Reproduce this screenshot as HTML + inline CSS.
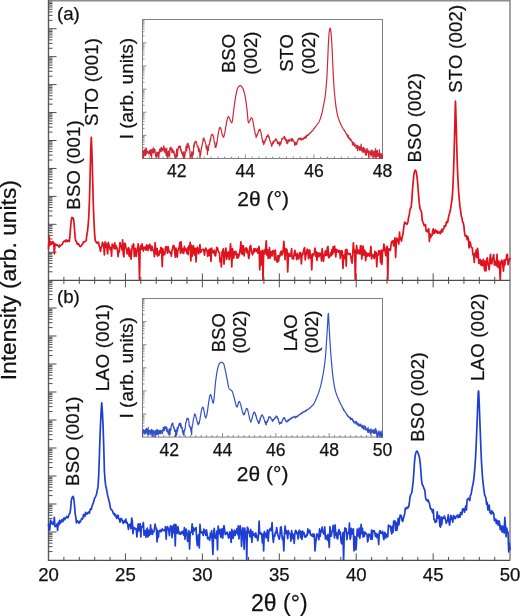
<!DOCTYPE html>
<html><head><meta charset="utf-8"><title>XRD</title>
<style>html,body{margin:0;padding:0;background:#fff;width:520px;height:616px;overflow:hidden}svg{display:block}</style>
</head><body><svg width="520" height="616" viewBox="0 0 520 616"><rect x="0" y="0" width="520" height="616" fill="#fff"/>
<path d="M48.5 0.6H510M510 0V560.4" stroke="#8c8c8c" stroke-width="1.6" fill="none"/>
<path d="M48.5 560.4H510" stroke="#4d4d4d" stroke-width="1.1" fill="none"/>
<path d="M48.5 0V561" stroke="#5a5a5a" stroke-width="1.4" fill="none"/>
<line x1="48.5" y1="280.4" x2="510.1" y2="280.4" stroke="#4d4d4d" stroke-width="1.3"/>
<path d="M63.89 560.4v-3.5M63.89 276.9v7.0M79.27 560.4v-3.5M79.27 276.9v7.0M94.66 560.4v-3.5M94.66 276.9v7.0M110.05 560.4v-3.5M110.05 276.9v7.0M125.43 560.4v-7M125.43 273.4v14M140.82 560.4v-3.5M140.82 276.9v7.0M156.21 560.4v-3.5M156.21 276.9v7.0M171.59 560.4v-3.5M171.59 276.9v7.0M186.98 560.4v-3.5M186.98 276.9v7.0M202.37 560.4v-7M202.37 273.4v14M217.75 560.4v-3.5M217.75 276.9v7.0M233.14 560.4v-3.5M233.14 276.9v7.0M248.53 560.4v-3.5M248.53 276.9v7.0M263.91 560.4v-3.5M263.91 276.9v7.0M279.30 560.4v-7M279.30 273.4v14M294.69 560.4v-3.5M294.69 276.9v7.0M310.07 560.4v-3.5M310.07 276.9v7.0M325.46 560.4v-3.5M325.46 276.9v7.0M340.85 560.4v-3.5M340.85 276.9v7.0M356.23 560.4v-7M356.23 273.4v14M371.62 560.4v-3.5M371.62 276.9v7.0M387.01 560.4v-3.5M387.01 276.9v7.0M402.39 560.4v-3.5M402.39 276.9v7.0M417.78 560.4v-3.5M417.78 276.9v7.0M433.17 560.4v-7M433.17 273.4v14M448.55 560.4v-3.5M448.55 276.9v7.0M463.94 560.4v-3.5M463.94 276.9v7.0M479.33 560.4v-3.5M479.33 276.9v7.0M494.71 560.4v-3.5M494.71 276.9v7.0" stroke="#4d4d4d" stroke-width="1" fill="none"/>
<path d="M48.5 271.79h4M48.5 266.87h4M48.5 263.38h4M48.5 260.67h4M48.5 258.46h4M48.5 256.59h4M48.5 254.97h4M48.5 253.54h4M48.5 252.26h8M48.5 243.85h4M48.5 238.93h4M48.5 235.44h4M48.5 232.73h4M48.5 230.52h4M48.5 228.65h4M48.5 227.03h4M48.5 225.60h4M48.5 224.32h8M48.5 215.91h4M48.5 210.99h4M48.5 207.50h4M48.5 204.79h4M48.5 202.58h4M48.5 200.71h4M48.5 199.09h4M48.5 197.66h4M48.5 196.38h8M48.5 187.97h4M48.5 183.05h4M48.5 179.56h4M48.5 176.85h4M48.5 174.64h4M48.5 172.77h4M48.5 171.15h4M48.5 169.72h4M48.5 168.44h8M48.5 160.03h4M48.5 155.11h4M48.5 151.62h4M48.5 148.91h4M48.5 146.70h4M48.5 144.83h4M48.5 143.21h4M48.5 141.78h4M48.5 140.50h8M48.5 132.09h4M48.5 127.17h4M48.5 123.68h4M48.5 120.97h4M48.5 118.76h4M48.5 116.89h4M48.5 115.27h4M48.5 113.84h4M48.5 112.56h8M48.5 104.15h4M48.5 99.23h4M48.5 95.74h4M48.5 93.03h4M48.5 90.82h4M48.5 88.95h4M48.5 87.33h4M48.5 85.90h4M48.5 84.62h8M48.5 76.21h4M48.5 71.29h4M48.5 67.80h4M48.5 65.09h4M48.5 62.88h4M48.5 61.01h4M48.5 59.39h4M48.5 57.96h4M48.5 56.68h8M48.5 48.27h4M48.5 43.35h4M48.5 39.86h4M48.5 37.15h4M48.5 34.94h4M48.5 33.07h4M48.5 31.45h4M48.5 30.02h4M48.5 28.74h8M48.5 20.33h4M48.5 15.41h4M48.5 11.92h4M48.5 9.21h4M48.5 7.00h4M48.5 5.13h4M48.5 3.51h4M48.5 2.08h4M48.5 551.57h4M48.5 546.64h4M48.5 543.14h4M48.5 540.43h4M48.5 538.21h4M48.5 536.34h4M48.5 534.71h4M48.5 533.28h4M48.5 532.00h8M48.5 523.57h4M48.5 518.64h4M48.5 515.14h4M48.5 512.43h4M48.5 510.21h4M48.5 508.34h4M48.5 506.71h4M48.5 505.28h4M48.5 504.00h8M48.5 495.57h4M48.5 490.64h4M48.5 487.14h4M48.5 484.43h4M48.5 482.21h4M48.5 480.34h4M48.5 478.71h4M48.5 477.28h4M48.5 476.00h8M48.5 467.57h4M48.5 462.64h4M48.5 459.14h4M48.5 456.43h4M48.5 454.21h4M48.5 452.34h4M48.5 450.71h4M48.5 449.28h4M48.5 448.00h8M48.5 439.57h4M48.5 434.64h4M48.5 431.14h4M48.5 428.43h4M48.5 426.21h4M48.5 424.34h4M48.5 422.71h4M48.5 421.28h4M48.5 420.00h8M48.5 411.57h4M48.5 406.64h4M48.5 403.14h4M48.5 400.43h4M48.5 398.21h4M48.5 396.34h4M48.5 394.71h4M48.5 393.28h4M48.5 392.00h8M48.5 383.57h4M48.5 378.64h4M48.5 375.14h4M48.5 372.43h4M48.5 370.21h4M48.5 368.34h4M48.5 366.71h4M48.5 365.28h4M48.5 364.00h8M48.5 355.57h4M48.5 350.64h4M48.5 347.14h4M48.5 344.43h4M48.5 342.21h4M48.5 340.34h4M48.5 338.71h4M48.5 337.28h4M48.5 336.00h8M48.5 327.57h4M48.5 322.64h4M48.5 319.14h4M48.5 316.43h4M48.5 314.21h4M48.5 312.34h4M48.5 310.71h4M48.5 309.28h4M48.5 308.00h8M48.5 299.57h4M48.5 294.64h4M48.5 291.14h4M48.5 288.43h4M48.5 286.21h4M48.5 284.34h4M48.5 282.71h4M48.5 281.28h4" stroke="#4d4d4d" stroke-width="1" fill="none"/>
<polyline points="48.50,249.15 49.15,236.72 49.80,245.40 50.45,241.89 51.10,244.28 51.75,244.02 52.40,241.52 53.05,242.91 53.70,242.26 54.35,253.78 55.00,244.21 55.65,244.13 56.30,245.25 56.95,244.69 57.60,245.32 58.25,245.92 58.90,247.15 59.55,245.10 60.20,246.08 60.85,245.26 61.50,244.87 62.15,244.52 62.80,243.07 63.45,241.56 64.10,241.38 64.75,240.92 65.40,241.62 66.05,239.80 66.70,241.53 67.35,241.61 68.00,240.33 68.65,241.23 69.30,241.31 69.95,235.60 70.60,226.97 71.25,220.52 71.90,217.39 72.30,218.05 72.55,217.74 73.20,218.00 73.85,221.23 74.50,228.56 75.15,238.15 75.80,240.79 76.45,241.59 77.10,243.75 77.75,244.39 78.40,243.64 79.05,244.52 79.70,246.27 80.35,246.59 81.00,246.13 81.65,245.30 82.30,244.19 82.95,243.84 83.60,241.59 84.25,241.98 84.90,241.54 85.55,241.11 86.20,240.58 86.85,234.93 87.50,231.36 88.15,224.83 88.80,216.48 89.45,200.17 90.10,175.36 90.75,149.38 91.30,137.40 91.40,137.95 92.05,156.42 92.70,180.74 93.35,205.91 94.00,222.28 94.65,234.30 95.30,240.99 95.95,241.39 96.60,242.88 97.25,242.38 97.90,243.37 98.55,242.26 99.20,246.19 99.85,247.79 100.50,251.37 101.15,247.00 101.80,246.67 102.45,242.30 103.10,243.73 103.75,245.82 104.40,254.84 105.05,241.76 105.70,247.19 106.35,243.54 107.00,248.23 107.65,253.83 108.30,242.33 108.95,244.87 109.60,247.08 110.25,249.71 110.90,247.52 111.55,256.26 112.20,243.99 112.85,246.62 113.50,245.07 114.15,248.78 114.80,242.86 115.45,248.88 116.10,245.80 116.75,247.73 117.40,248.95 118.05,256.56 118.70,250.82 119.35,251.84 120.00,242.48 120.65,246.60 121.30,245.90 121.95,249.83 122.60,239.78 123.25,254.06 123.90,256.82 124.55,243.33 125.20,243.27 125.85,247.54 126.50,248.74 127.15,253.83 127.80,253.38 128.45,247.63 129.10,256.21 129.75,249.12 130.40,254.88 131.05,259.13 131.70,251.54 132.35,245.23 133.00,247.58 133.65,243.92 134.30,256.60 134.95,250.84 135.60,248.33 136.25,256.42 136.90,251.35 137.55,249.95 138.20,243.95 138.85,252.96 139.50,280.00 140.15,248.43 140.80,245.58 141.45,249.04 142.10,243.95 142.75,248.98 143.40,251.01 144.05,247.08 144.70,248.64 145.35,247.13 146.00,250.17 146.65,244.75 147.30,248.81 147.95,250.46 148.60,245.26 149.25,247.89 149.90,244.34 150.55,249.55 151.20,250.55 151.85,246.04 152.50,247.95 153.15,250.65 153.80,251.30 154.45,256.73 155.10,242.71 155.75,252.00 156.40,254.31 157.05,248.37 157.70,256.11 158.35,252.40 159.00,255.20 159.65,250.55 160.30,252.79 160.95,247.31 161.60,249.15 162.25,266.70 162.90,248.78 163.55,255.07 164.20,252.41 164.85,254.39 165.50,247.21 166.15,246.61 166.80,247.93 167.45,253.04 168.10,246.56 168.75,250.46 169.40,251.91 170.05,252.92 170.70,252.05 171.35,256.11 172.00,250.40 172.65,248.29 173.30,245.43 173.95,245.74 174.60,250.35 175.25,257.20 175.90,247.98 176.55,251.85 177.20,257.11 177.85,251.27 178.50,248.47 179.15,247.99 179.80,242.33 180.45,253.48 181.10,241.88 181.75,251.94 182.40,248.48 183.05,253.21 183.70,253.29 184.35,246.34 185.00,250.62 185.65,248.79 186.30,250.35 186.95,253.43 187.60,247.89 188.25,254.55 188.90,245.97 189.55,247.61 190.20,242.30 190.85,261.01 191.50,245.41 192.15,256.20 192.80,253.33 193.45,245.61 194.10,251.38 194.75,255.03 195.40,248.37 196.05,262.00 196.70,249.39 197.35,247.23 198.00,251.15 198.65,253.80 199.30,249.32 199.95,244.51 200.60,252.41 201.25,251.44 201.90,250.16 202.55,249.57 203.20,249.19 203.85,250.25 204.50,255.17 205.15,250.02 205.80,248.04 206.45,250.52 207.10,250.46 207.75,256.42 208.40,251.65 209.05,249.52 209.70,255.77 210.35,248.84 211.00,261.35 211.65,248.14 212.30,252.56 212.95,251.37 213.60,252.81 214.25,250.15 214.90,255.18 215.55,255.95 216.20,251.31 216.85,247.47 217.50,248.04 218.15,250.69 218.80,252.46 219.45,252.67 220.10,261.94 220.75,258.55 221.40,266.93 222.05,251.70 222.70,251.20 223.35,248.80 224.00,264.09 224.65,256.38 225.30,251.78 225.95,248.09 226.60,259.12 227.25,256.13 227.90,252.59 228.55,251.79 229.20,259.63 229.85,254.16 230.50,243.91 231.15,251.82 231.80,267.00 232.45,248.62 233.10,254.26 233.75,258.22 234.40,251.64 235.05,254.43 235.70,251.28 236.35,253.60 237.00,258.19 237.65,254.12 238.30,257.68 238.95,255.73 239.60,252.83 240.25,249.53 240.90,241.88 241.55,253.34 242.20,254.32 242.85,245.53 243.50,246.21 244.15,255.97 244.80,249.18 245.45,248.88 246.10,247.82 246.75,252.55 247.40,249.06 248.05,253.21 248.70,258.50 249.35,254.78 250.00,246.35 250.65,245.36 251.30,249.98 251.95,253.01 252.60,254.80 253.25,252.29 253.90,248.77 254.55,251.91 255.20,248.72 255.85,250.52 256.50,251.28 257.15,248.74 257.80,253.25 258.45,249.77 259.10,246.46 259.75,269.88 260.40,251.06 261.05,264.84 261.70,253.57 262.35,250.36 263.00,280.00 263.65,254.05 264.30,250.20 264.95,253.90 265.60,249.07 266.25,240.87 266.90,255.09 267.55,249.77 268.20,258.44 268.85,255.12 269.50,247.54 270.15,258.08 270.80,251.89 271.45,251.75 272.10,255.99 272.75,250.95 273.40,250.47 274.05,252.68 274.70,260.01 275.35,250.18 276.00,259.24 276.65,260.85 277.30,262.24 277.95,255.56 278.60,261.03 279.25,255.71 279.90,256.19 280.55,252.14 281.20,251.09 281.85,255.06 282.50,253.81 283.15,250.33 283.80,241.37 284.45,248.60 285.10,259.64 285.75,248.80 286.40,249.00 287.05,250.15 287.70,272.00 288.35,256.65 289.00,253.26 289.65,256.12 290.30,256.15 290.95,254.15 291.60,248.68 292.25,258.77 292.90,256.57 293.55,258.86 294.20,253.77 294.85,250.44 295.50,255.27 296.15,254.02 296.80,259.74 297.45,253.43 298.10,257.62 298.75,258.81 299.40,255.08 300.05,252.29 300.70,253.71 301.35,263.95 302.00,254.22 302.65,254.86 303.30,252.03 303.95,249.18 304.60,247.68 305.25,259.91 305.90,255.17 306.55,252.85 307.20,249.19 307.85,250.04 308.50,258.66 309.15,252.33 309.80,249.95 310.45,258.11 311.10,255.41 311.75,270.00 312.40,253.89 313.05,255.86 313.70,254.14 314.35,253.26 315.00,248.00 315.65,256.50 316.30,251.78 316.95,260.49 317.60,252.82 318.25,253.62 318.90,256.76 319.55,253.15 320.20,255.27 320.85,253.31 321.50,260.88 322.15,248.68 322.80,253.85 323.45,261.30 324.10,255.71 324.75,255.07 325.40,250.86 326.05,255.43 326.70,255.42 327.35,247.22 328.00,246.47 328.65,257.59 329.30,257.45 329.95,255.93 330.60,252.89 331.25,255.58 331.90,249.68 332.55,254.45 333.20,246.89 333.85,252.22 334.50,246.22 335.15,249.86 335.80,256.99 336.45,249.28 337.10,250.13 337.75,251.71 338.40,252.18 339.05,250.46 339.70,250.59 340.35,258.39 341.00,253.21 341.65,250.51 342.30,251.49 342.95,268.37 343.60,255.46 344.25,258.83 344.90,255.66 345.55,249.76 346.20,266.23 346.85,249.30 347.50,253.81 348.15,253.28 348.80,254.23 349.45,253.72 350.10,253.66 350.75,256.37 351.40,260.49 352.05,263.12 352.70,254.77 353.35,242.91 354.00,251.80 354.65,250.35 355.30,280.00 355.95,253.94 356.60,245.55 357.25,252.18 357.90,253.52 358.55,250.14 359.20,253.34 359.85,253.87 360.50,245.80 361.15,246.09 361.80,259.05 362.45,251.02 363.10,246.17 363.75,255.14 364.40,250.04 365.05,251.14 365.70,260.61 366.35,252.58 367.00,256.50 367.65,254.76 368.30,253.47 368.95,255.74 369.60,256.14 370.25,252.56 370.90,246.31 371.55,258.82 372.20,254.57 372.85,256.28 373.50,255.11 374.15,258.63 374.80,251.46 375.45,256.62 376.10,252.23 376.75,266.80 377.40,254.17 378.05,255.26 378.70,250.89 379.35,250.62 380.00,253.25 380.65,262.71 381.30,250.07 381.95,264.43 382.60,250.60 383.25,250.94 383.90,244.19 384.55,247.24 385.20,252.19 385.85,255.67 386.50,248.39 387.15,246.39 387.80,280.00 388.45,248.83 389.10,249.97 389.75,248.99 390.40,250.33 391.05,244.72 391.70,241.77 392.35,241.01 393.00,240.94 393.65,245.91 394.30,240.97 394.95,237.88 395.60,257.50 396.25,244.54 396.90,238.19 397.55,241.39 398.20,239.52 398.85,244.02 399.50,232.22 400.15,239.45 400.80,237.69 401.45,241.10 402.10,237.45 402.75,235.10 403.40,230.62 404.05,225.47 404.70,222.16 405.35,222.75 406.00,223.32 406.65,224.32 407.30,224.01 407.95,221.68 408.60,217.15 409.25,215.00 409.90,210.07 410.55,208.39 411.20,206.88 411.85,199.89 412.50,189.79 413.15,182.09 413.80,175.48 414.45,171.55 415.10,170.20 415.30,170.10 415.75,170.57 416.40,172.37 417.05,177.18 417.70,183.79 418.35,192.08 419.00,200.23 419.65,206.27 420.30,209.59 420.95,210.62 421.60,212.71 422.25,220.32 422.90,221.99 423.55,223.40 424.20,225.76 424.85,225.74 425.50,224.56 426.15,231.00 426.80,231.49 427.45,230.03 428.10,232.11 428.75,228.74 429.40,241.41 430.05,233.81 430.70,237.52 431.35,235.27 432.00,235.52 432.65,231.23 433.30,228.84 433.95,233.75 434.60,232.78 435.25,229.85 435.90,231.84 436.55,230.70 437.20,233.34 437.85,231.28 438.50,232.52 439.15,233.22 439.80,231.88 440.45,233.63 441.10,231.00 441.75,229.26 442.40,231.93 443.05,229.27 443.70,229.00 444.35,225.91 445.00,226.53 445.65,225.97 446.30,222.52 446.95,221.58 447.60,222.54 448.25,218.70 448.90,215.45 449.55,213.32 450.20,210.70 450.85,207.62 451.50,202.75 452.15,198.44 452.80,188.87 453.45,173.87 454.10,153.34 454.75,128.08 455.40,101.85 455.50,101.00 456.05,119.16 456.70,144.54 457.35,166.24 458.00,180.56 458.65,191.81 459.30,200.13 459.95,206.45 460.60,210.24 461.25,216.04 461.90,217.69 462.55,221.91 463.20,222.56 463.85,225.70 464.50,232.34 465.15,236.07 465.80,235.94 466.45,235.63 467.10,239.67 467.75,236.68 468.40,238.89 469.05,247.90 469.70,241.64 470.35,242.97 471.00,246.45 471.65,247.45 472.30,247.85 472.95,254.89 473.60,254.26 474.25,262.41 474.90,253.19 475.55,255.90 476.20,250.03 476.85,257.75 477.50,248.40 478.15,252.65 478.80,263.35 479.45,261.77 480.10,259.38 480.75,264.79 481.40,260.50 482.05,265.72 482.70,265.46 483.35,259.43 484.00,265.09 484.65,270.77 485.30,261.03 485.95,270.95 486.60,261.17 487.25,257.75 487.90,263.90 488.55,265.51 489.20,269.77 489.85,258.88 490.50,254.29 491.15,263.37 491.80,263.70 492.45,259.38 493.10,257.56 493.75,254.53 494.40,265.07 495.05,262.55 495.70,261.14 496.35,265.98 497.00,254.44 497.65,265.05 498.30,267.47 498.95,261.06 499.60,267.45 500.25,280.00 500.90,262.37 501.55,260.18 502.20,260.76 502.85,265.62 503.50,271.23 504.15,259.97 504.80,265.14 505.45,260.09 506.10,259.72 506.75,254.89 507.40,254.37 508.05,264.72 508.70,261.48 509.35,260.23 510.00,257.83" fill="none" stroke="#e0121e" stroke-width="1.7" stroke-linejoin="round" />
<polyline points="48.50,523.92 49.15,530.27 49.80,529.64 50.45,520.28 51.10,523.56 51.75,521.64 52.40,523.65 53.05,524.50 53.70,524.12 54.35,517.36 55.00,526.75 55.65,525.93 56.30,526.30 56.95,524.00 57.60,530.40 58.25,522.62 58.90,524.90 59.55,520.44 60.20,523.40 60.85,522.42 61.50,520.33 62.15,519.53 62.80,521.73 63.45,519.54 64.10,517.80 64.75,519.59 65.40,518.33 66.05,517.80 66.70,516.36 67.35,517.33 68.00,517.84 68.65,515.73 69.30,513.98 69.95,512.81 70.60,509.24 71.25,500.92 71.90,497.97 72.55,496.94 72.70,497.79 73.20,496.39 73.85,499.23 74.50,504.99 75.15,513.62 75.80,517.34 76.45,522.93 77.10,520.59 77.75,521.37 78.40,521.84 79.05,523.17 79.70,521.13 80.35,521.79 81.00,520.28 81.65,518.44 82.30,519.14 82.95,517.90 83.60,514.48 84.25,515.63 84.90,516.53 85.55,512.38 86.20,514.15 86.85,513.23 87.50,513.96 88.15,512.24 88.80,512.01 89.45,513.00 90.10,509.78 90.75,508.63 91.40,509.15 92.05,506.28 92.70,504.37 93.35,502.86 94.00,500.51 94.65,498.23 95.30,497.15 95.95,495.76 96.60,493.78 97.25,490.38 97.90,487.73 98.55,478.54 99.20,461.96 99.85,441.01 100.50,424.36 101.15,410.97 101.70,402.80 101.80,403.09 102.45,413.12 103.10,426.34 103.75,446.63 104.40,471.10 105.05,480.03 105.70,485.60 106.35,488.27 107.00,491.88 107.65,495.25 108.30,497.85 108.95,500.69 109.60,503.05 110.25,507.17 110.90,509.14 111.55,509.90 112.20,510.26 112.85,511.95 113.50,513.88 114.15,513.47 114.80,515.57 115.45,514.44 116.10,516.91 116.75,518.41 117.40,515.83 118.05,515.24 118.70,518.91 119.35,518.96 120.00,522.18 120.65,518.86 121.30,518.45 121.95,519.70 122.60,521.99 123.25,523.32 123.90,521.13 124.55,520.54 125.20,522.50 125.85,519.16 126.50,522.80 127.15,522.36 127.80,525.11 128.45,529.39 129.10,524.55 129.75,526.11 130.40,523.92 131.05,528.77 131.70,518.03 132.35,520.95 133.00,533.71 133.65,528.57 134.30,527.47 134.95,528.30 135.60,529.37 136.25,528.87 136.90,536.92 137.55,529.14 138.20,523.91 138.85,530.82 139.50,526.68 140.15,523.57 140.80,536.86 141.45,526.71 142.10,527.17 142.75,525.26 143.40,522.46 144.05,535.23 144.70,532.90 145.35,530.56 146.00,537.33 146.65,529.65 147.30,528.03 147.95,536.82 148.60,530.47 149.25,535.46 149.90,534.37 150.55,524.95 151.20,533.95 151.85,529.26 152.50,534.41 153.15,531.44 153.80,531.92 154.45,529.22 155.10,524.02 155.75,527.87 156.40,528.40 157.05,541.93 157.70,530.27 158.35,537.37 159.00,531.72 159.65,531.08 160.30,529.97 160.95,531.82 161.60,531.30 162.25,528.93 162.90,529.76 163.55,530.32 164.20,530.07 164.85,530.85 165.50,526.51 166.15,539.14 166.80,529.26 167.45,526.63 168.10,528.34 168.75,530.44 169.40,535.76 170.05,527.76 170.70,525.85 171.35,526.44 172.00,537.64 172.65,531.68 173.30,525.35 173.95,532.61 174.60,524.26 175.25,546.00 175.90,524.72 176.55,532.80 177.20,533.47 177.85,526.53 178.50,530.42 179.15,533.86 179.80,532.36 180.45,534.27 181.10,533.65 181.75,531.73 182.40,533.25 183.05,531.15 183.70,535.21 184.35,527.55 185.00,539.28 185.65,529.65 186.30,529.04 186.95,534.54 187.60,541.33 188.25,535.89 188.90,530.69 189.55,549.04 190.20,533.88 190.85,531.95 191.50,532.21 192.15,523.80 192.80,534.56 193.45,527.57 194.10,530.88 194.75,529.17 195.40,529.35 196.05,527.57 196.70,540.22 197.35,545.70 198.00,536.89 198.65,534.51 199.30,548.00 199.95,524.42 200.60,531.16 201.25,532.86 201.90,531.89 202.55,532.32 203.20,535.43 203.85,529.02 204.50,530.53 205.15,532.81 205.80,535.26 206.45,529.92 207.10,534.23 207.75,538.88 208.40,537.45 209.05,537.67 209.70,540.27 210.35,533.14 211.00,537.28 211.65,530.64 212.30,542.45 212.95,554.40 213.60,533.76 214.25,528.37 214.90,536.72 215.55,538.41 216.20,538.03 216.85,531.04 217.50,549.97 218.15,526.19 218.80,532.44 219.45,533.74 220.10,529.35 220.75,537.26 221.40,535.98 222.05,528.71 222.70,538.22 223.35,530.84 224.00,525.50 224.65,530.01 225.30,534.51 225.95,534.02 226.60,532.75 227.25,532.22 227.90,534.58 228.55,538.05 229.20,537.06 229.85,531.91 230.50,536.20 231.15,542.38 231.80,529.40 232.45,532.37 233.10,538.44 233.75,532.27 234.40,530.19 235.05,535.53 235.70,531.02 236.35,532.68 237.00,528.55 237.65,534.64 238.30,525.91 238.95,538.93 239.60,530.15 240.25,525.80 240.90,531.10 241.55,546.37 242.20,532.10 242.85,527.84 243.50,535.84 244.15,549.32 244.80,528.19 245.45,536.84 246.10,531.59 246.75,560.00 247.40,527.22 248.05,528.53 248.70,532.65 249.35,531.88 250.00,536.99 250.65,529.26 251.30,533.34 251.95,542.48 252.60,531.69 253.25,535.30 253.90,533.85 254.55,534.58 255.20,537.11 255.85,532.97 256.50,537.70 257.15,536.15 257.80,540.62 258.45,535.81 259.10,521.20 259.75,533.70 260.40,533.96 261.05,532.93 261.70,533.99 262.35,542.96 263.00,534.17 263.65,551.00 264.30,531.68 264.95,533.03 265.60,533.79 266.25,537.79 266.90,533.22 267.55,529.91 268.20,541.16 268.85,531.56 269.50,531.09 270.15,528.42 270.80,528.77 271.45,530.73 272.10,522.69 272.75,536.70 273.40,542.29 274.05,535.10 274.70,536.35 275.35,532.32 276.00,533.19 276.65,527.54 277.30,532.17 277.95,534.96 278.60,537.38 279.25,539.10 279.90,535.93 280.55,527.42 281.20,526.82 281.85,534.19 282.50,539.69 283.15,537.42 283.80,551.00 284.45,534.20 285.10,526.02 285.75,533.40 286.40,530.60 287.05,533.66 287.70,538.76 288.35,530.51 289.00,533.16 289.65,533.49 290.30,534.23 290.95,541.11 291.60,530.68 292.25,533.90 292.90,538.72 293.55,534.44 294.20,543.35 294.85,534.23 295.50,530.29 296.15,530.81 296.80,533.75 297.45,532.85 298.10,538.89 298.75,531.34 299.40,530.23 300.05,530.99 300.70,537.74 301.35,531.87 302.00,539.47 302.65,531.12 303.30,533.90 303.95,532.63 304.60,536.88 305.25,536.48 305.90,537.03 306.55,534.69 307.20,535.52 307.85,528.87 308.50,532.96 309.15,531.25 309.80,530.15 310.45,534.82 311.10,534.48 311.75,535.69 312.40,536.31 313.05,533.86 313.70,536.75 314.35,534.31 315.00,551.00 315.65,542.84 316.30,539.10 316.95,533.81 317.60,535.78 318.25,535.49 318.90,539.69 319.55,528.87 320.20,536.29 320.85,530.83 321.50,531.77 322.15,527.11 322.80,531.93 323.45,533.24 324.10,534.37 324.75,526.87 325.40,538.87 326.05,538.42 326.70,535.75 327.35,540.03 328.00,534.40 328.65,540.49 329.30,547.39 329.95,526.67 330.60,535.89 331.25,536.20 331.90,532.07 332.55,530.00 333.20,525.46 333.85,530.80 334.50,537.86 335.15,524.93 335.80,535.23 336.45,532.94 337.10,538.43 337.75,538.86 338.40,530.86 339.05,529.55 339.70,534.22 340.35,532.13 341.00,540.94 341.65,543.79 342.30,538.72 342.95,532.59 343.60,560.00 344.25,533.89 344.90,527.96 345.55,530.84 346.20,528.86 346.85,539.61 347.50,534.70 348.15,532.42 348.80,533.15 349.45,523.03 350.10,539.28 350.75,536.91 351.40,528.46 352.05,534.14 352.70,533.66 353.35,528.95 354.00,550.88 354.65,536.72 355.30,537.02 355.95,550.00 356.60,540.63 357.25,529.15 357.90,534.23 358.55,536.08 359.20,528.22 359.85,538.38 360.50,532.06 361.15,524.40 361.80,533.76 362.45,528.32 363.10,537.24 363.75,532.11 364.40,536.08 365.05,532.09 365.70,533.22 366.35,533.64 367.00,534.48 367.65,541.85 368.30,538.57 368.95,534.13 369.60,534.86 370.25,535.03 370.90,539.25 371.55,530.22 372.20,539.28 372.85,530.68 373.50,531.31 374.15,530.73 374.80,532.49 375.45,536.45 376.10,533.46 376.75,537.68 377.40,534.00 378.05,535.47 378.70,544.54 379.35,532.10 380.00,530.58 380.65,533.19 381.30,532.41 381.95,533.63 382.60,531.26 383.25,536.57 383.90,539.70 384.55,532.35 385.20,533.09 385.85,537.96 386.50,535.40 387.15,534.17 387.80,536.76 388.45,525.01 389.10,526.37 389.75,526.15 390.40,526.09 391.05,530.61 391.70,533.91 392.35,526.30 393.00,532.32 393.65,521.02 394.30,522.68 394.95,520.83 395.60,530.33 396.25,522.57 396.90,530.36 397.55,526.42 398.20,518.40 398.85,525.00 399.50,519.55 400.15,515.10 400.80,515.27 401.45,516.20 402.10,520.57 402.75,521.34 403.40,518.48 404.05,516.12 404.70,513.46 405.35,508.16 406.00,508.41 406.65,508.58 407.30,507.09 407.95,507.79 408.60,506.96 409.25,503.74 409.90,497.79 410.55,494.88 411.20,493.87 411.85,492.65 412.50,487.35 413.15,481.68 413.80,473.12 414.45,462.69 415.10,456.46 415.75,453.04 416.40,451.45 417.00,451.02 417.05,451.05 417.70,452.20 418.35,453.88 419.00,455.80 419.65,458.58 420.30,464.15 420.95,472.22 421.60,480.60 422.25,484.72 422.90,485.38 423.55,487.19 424.20,489.00 424.85,490.21 425.50,497.29 426.15,499.83 426.80,499.75 427.45,501.29 428.10,499.88 428.75,501.81 429.40,503.31 430.05,507.05 430.70,509.09 431.35,508.81 432.00,510.49 432.65,512.85 433.30,509.47 433.95,519.61 434.60,519.47 435.25,522.48 435.90,521.35 436.55,521.63 437.20,511.73 437.85,518.28 438.50,518.09 439.15,515.68 439.80,526.08 440.45,527.17 441.10,516.80 441.75,524.71 442.40,517.69 443.05,518.53 443.70,518.39 444.35,515.96 445.00,517.92 445.65,519.96 446.30,523.25 446.95,521.35 447.60,519.77 448.25,514.86 448.90,521.55 449.55,525.02 450.20,520.78 450.85,515.23 451.50,519.08 452.15,517.55 452.80,522.16 453.45,515.69 454.10,516.07 454.75,518.43 455.40,518.62 456.05,516.54 456.70,516.33 457.35,515.02 458.00,517.53 458.65,517.32 459.30,514.78 459.95,517.18 460.60,512.52 461.25,512.77 461.90,514.51 462.55,508.76 463.20,510.39 463.85,508.98 464.50,512.22 465.15,508.74 465.80,505.74 466.45,509.93 467.10,499.69 467.75,499.15 468.40,498.30 469.05,499.09 469.70,500.68 470.35,495.59 471.00,494.76 471.65,491.07 472.30,487.41 472.95,484.13 473.60,480.97 474.25,474.70 474.90,467.27 475.55,457.99 476.20,444.08 476.85,428.42 477.50,411.18 478.15,394.12 478.50,390.80 478.80,393.22 479.45,409.35 480.10,427.43 480.75,444.80 481.40,460.22 482.05,470.67 482.70,479.39 483.35,485.16 484.00,490.56 484.65,494.80 485.30,496.34 485.95,498.36 486.60,504.43 487.25,502.48 487.90,509.98 488.55,506.60 489.20,505.01 489.85,512.38 490.50,512.58 491.15,513.91 491.80,510.72 492.45,513.35 493.10,512.32 493.75,514.03 494.40,520.65 495.05,520.45 495.70,519.05 496.35,523.69 497.00,520.31 497.65,522.55 498.30,525.19 498.95,520.80 499.60,523.30 500.25,529.72 500.90,525.70 501.55,528.87 502.20,532.20 502.85,525.98 503.50,527.46 504.15,533.08 504.80,517.42 505.45,525.63 506.10,536.79 506.75,528.08 507.40,531.61 508.05,532.26 508.70,552.00 509.35,543.08 510.00,550.00" fill="none" stroke="#1f3fd4" stroke-width="1.7" stroke-linejoin="round" />
<rect x="142.5" y="19.5" width="240.00" height="139.00" fill="#fff" stroke="#808080" stroke-width="1"/>
<path d="M149.36 158.5v-2M156.21 158.5v-2M163.07 158.5v-2M169.93 158.5v-2M176.79 158.5v-4M183.64 158.5v-2M190.50 158.5v-2M197.36 158.5v-2M204.21 158.5v-2M211.07 158.5v-2M217.93 158.5v-2M224.79 158.5v-2M231.64 158.5v-2M238.50 158.5v-2M245.36 158.5v-4M252.21 158.5v-2M259.07 158.5v-2M265.93 158.5v-2M272.79 158.5v-2M279.64 158.5v-2M286.50 158.5v-2M293.36 158.5v-2M300.21 158.5v-2M307.07 158.5v-2M313.93 158.5v-4M320.79 158.5v-2M327.64 158.5v-2M334.50 158.5v-2M341.36 158.5v-2M348.21 158.5v-2M355.07 158.5v-2M361.93 158.5v-2M368.79 158.5v-2M375.64 158.5v-2M142.5 151.54h2M142.5 147.46h2M142.5 144.57h2M142.5 142.33h2M142.5 140.50h2M142.5 138.95h2M142.5 137.61h2M142.5 136.43h2M142.5 135.37h4M142.5 128.41h2M142.5 124.33h2M142.5 121.44h2M142.5 119.20h2M142.5 117.37h2M142.5 115.82h2M142.5 114.48h2M142.5 113.30h2M142.5 112.24h4M142.5 105.28h2M142.5 101.20h2M142.5 98.31h2M142.5 96.07h2M142.5 94.24h2M142.5 92.69h2M142.5 91.35h2M142.5 90.17h2M142.5 89.11h4M142.5 82.15h2M142.5 78.07h2M142.5 75.18h2M142.5 72.94h2M142.5 71.11h2M142.5 69.56h2M142.5 68.22h2M142.5 67.04h2M142.5 65.98h4M142.5 59.02h2M142.5 54.94h2M142.5 52.05h2M142.5 49.81h2M142.5 47.98h2M142.5 46.43h2M142.5 45.09h2M142.5 43.91h2M142.5 42.85h4M142.5 35.89h2M142.5 31.81h2M142.5 28.92h2M142.5 26.68h2M142.5 24.85h2M142.5 23.30h2M142.5 21.96h2M142.5 20.78h2" stroke="#808080" stroke-width="0.9" fill="none"/>
<polyline points="142.50,152.25 142.74,151.54 142.98,151.25 143.22,155.11 143.46,158.50 143.70,156.87 143.94,150.54 144.18,150.03 144.42,153.90 144.66,155.16 144.90,153.71 145.14,149.02 145.38,149.56 145.62,155.46 145.86,152.23 146.00,147.73 146.10,150.41 146.34,148.23 146.58,153.79 146.82,151.07 147.06,151.70 147.30,152.27 147.55,151.55 147.79,151.07 148.03,153.05 148.27,153.49 148.51,153.74 148.75,153.68 148.99,151.91 149.23,152.59 149.47,150.44 149.71,153.93 149.95,152.62 150.00,152.67 150.19,150.39 150.43,155.48 150.67,149.70 150.91,150.41 151.15,154.08 151.39,150.20 151.63,157.66 151.87,153.16 152.11,149.24 152.35,152.02 152.59,149.66 152.83,151.82 153.07,152.91 153.31,147.51 153.55,152.93 153.79,150.63 154.00,152.02 154.03,150.33 154.27,152.09 154.51,148.93 154.75,151.51 154.99,149.35 155.23,154.26 155.47,153.87 155.71,156.56 155.95,154.43 156.19,155.53 156.43,157.15 156.67,152.17 156.91,152.06 157.15,155.83 157.39,152.37 157.64,153.18 157.88,152.67 158.00,154.21 158.12,157.04 158.36,152.11 158.60,154.00 158.84,157.64 159.08,154.07 159.32,153.65 159.56,149.13 159.80,149.93 160.04,150.51 160.28,152.01 160.52,149.40 160.76,149.30 161.00,147.53 161.00,150.64 161.24,148.03 161.48,147.49 161.72,151.48 161.96,150.99 162.20,149.13 162.44,149.89 162.68,148.56 162.92,149.10 163.16,150.08 163.40,148.25 163.64,146.23 163.88,145.79 164.10,150.12 164.12,148.25 164.36,151.87 164.60,148.03 164.84,148.00 165.08,148.15 165.32,149.40 165.56,153.59 165.80,149.41 166.04,151.65 166.28,155.74 166.52,153.14 166.76,148.20 167.00,156.59 167.24,154.22 167.48,152.42 167.73,158.50 167.97,155.33 168.00,151.80 168.21,151.66 168.45,151.06 168.69,154.08 168.93,156.06 169.17,151.26 169.41,152.85 169.65,155.84 169.89,148.06 170.13,151.03 170.37,149.30 170.61,147.28 170.85,147.32 171.09,149.67 171.33,148.96 171.57,148.12 171.80,152.41 171.81,148.96 172.05,151.11 172.29,149.78 172.53,149.37 172.77,149.82 173.01,152.26 173.25,153.20 173.49,151.01 173.73,152.01 173.97,151.35 174.21,152.67 174.45,155.56 174.69,154.84 174.93,157.50 175.17,156.67 175.41,155.27 175.65,158.50 175.70,156.57 175.89,153.68 176.13,157.04 176.37,154.69 176.61,149.21 176.85,153.43 177.09,151.94 177.33,156.26 177.58,155.27 177.82,149.00 178.06,148.47 178.30,147.57 178.54,146.53 178.78,148.78 179.02,148.33 179.26,147.23 179.50,146.20 179.50,146.74 179.74,147.34 179.98,146.09 180.22,147.16 180.46,146.01 180.70,150.79 180.94,150.40 181.18,149.63 181.42,151.65 181.66,153.40 181.90,151.60 182.14,153.21 182.38,152.94 182.62,155.47 182.86,153.36 183.10,152.97 183.34,157.24 183.50,158.50 183.58,158.50 183.82,152.54 184.06,151.25 184.30,158.50 184.54,154.31 184.78,156.76 185.02,155.31 185.26,153.06 185.50,152.42 185.74,152.22 185.98,146.60 186.22,147.89 186.46,146.65 186.70,150.64 186.94,144.94 187.18,143.75 187.42,143.95 187.67,147.69 187.80,145.09 187.91,143.21 188.15,144.25 188.39,145.72 188.63,146.70 188.87,145.31 189.11,147.69 189.35,149.46 189.59,148.92 189.83,150.02 190.07,155.20 190.31,158.50 190.55,155.90 190.79,154.89 191.03,156.18 191.27,155.56 191.51,154.37 191.60,151.73 191.75,153.91 191.99,158.50 192.23,158.50 192.47,152.12 192.71,155.54 192.95,154.96 193.19,151.42 193.43,154.08 193.67,144.87 193.91,147.68 194.15,146.61 194.39,142.45 194.63,143.37 194.87,144.02 195.11,142.09 195.35,141.40 195.59,141.99 195.80,141.41 195.83,141.95 196.07,141.99 196.31,141.83 196.55,142.25 196.79,144.27 197.03,145.77 197.27,146.14 197.52,147.04 197.76,146.69 198.00,146.09 198.24,147.40 198.48,150.52 198.72,151.67 198.96,148.88 199.20,148.50 199.44,151.82 199.68,150.98 199.70,150.67 199.92,157.85 200.16,155.97 200.40,152.81 200.64,155.05 200.88,151.34 201.12,150.71 201.36,148.61 201.60,147.35 201.84,147.01 202.08,144.89 202.32,144.32 202.56,142.37 202.80,142.57 203.04,139.53 203.28,138.62 203.52,139.59 203.76,139.03 203.90,140.05 204.00,137.96 204.24,140.07 204.48,139.86 204.72,140.62 204.96,141.07 205.20,142.21 205.44,143.48 205.68,144.06 205.92,144.02 206.16,147.92 206.40,147.67 206.64,149.29 206.88,149.47 207.12,145.85 207.36,150.46 207.40,154.57 207.61,148.60 207.85,150.39 208.09,149.95 208.33,150.59 208.57,146.63 208.81,145.38 209.05,144.41 209.29,144.81 209.53,144.68 209.77,142.75 210.01,139.90 210.25,141.27 210.49,138.72 210.73,140.06 210.97,136.62 211.21,135.71 211.45,134.79 211.69,134.93 211.93,134.41 212.17,134.29 212.20,134.45 212.41,135.07 212.65,134.64 212.89,135.12 213.13,135.62 213.37,136.46 213.61,137.82 213.85,138.89 214.09,140.73 214.33,142.69 214.57,142.44 214.81,142.64 215.05,146.94 215.29,147.32 215.53,145.75 215.70,146.00 215.77,147.41 216.01,146.77 216.25,146.57 216.49,142.48 216.73,144.26 216.97,143.23 217.21,140.26 217.45,138.29 217.70,137.38 217.94,135.36 218.18,134.36 218.42,132.44 218.66,131.18 218.90,130.65 219.14,129.09 219.38,128.20 219.62,128.27 219.86,127.52 219.90,127.66 220.10,127.23 220.34,127.68 220.58,128.05 220.82,128.53 221.06,129.53 221.30,130.31 221.54,131.49 221.78,132.67 222.02,134.00 222.26,134.39 222.50,135.38 222.74,135.80 222.98,136.63 223.22,136.48 223.40,136.60 223.46,136.61 223.70,137.41 223.94,136.13 224.18,135.43 224.42,134.18 224.66,133.27 224.90,132.44 225.14,130.87 225.38,129.71 225.62,127.64 225.86,126.26 226.10,125.37 226.34,123.79 226.58,122.40 226.82,121.09 227.06,119.90 227.30,118.86 227.55,117.99 227.79,117.32 228.03,116.88 228.27,116.70 228.30,116.70 228.51,116.76 228.75,116.97 228.99,117.31 229.23,117.76 229.47,118.28 229.71,118.87 229.95,119.48 230.19,120.11 230.43,120.72 230.67,121.30 230.91,121.81 231.15,122.24 231.39,122.57 231.63,122.76 231.80,122.80 231.87,122.77 232.11,122.23 232.35,121.10 232.59,119.53 232.83,117.63 233.07,115.54 233.31,113.38 233.55,111.28 233.79,109.37 233.90,108.60 234.03,107.70 234.27,106.00 234.51,104.25 234.75,102.49 234.99,100.77 235.23,99.11 235.47,97.56 235.71,96.16 235.90,95.20 235.95,94.94 236.19,93.79 236.43,92.66 236.67,91.59 236.91,90.59 237.15,89.70 237.39,88.93 237.64,88.32 237.80,88.00 237.88,87.87 238.12,87.48 238.36,87.11 238.60,86.76 238.84,86.45 239.08,86.16 239.32,85.92 239.56,85.73 239.80,85.59 240.04,85.52 240.20,85.50 240.28,85.50 240.52,85.56 240.76,85.69 241.00,85.87 241.24,86.10 241.48,86.37 241.72,86.68 241.96,87.02 242.20,87.38 242.44,87.75 242.60,88.00 242.68,88.13 242.92,88.59 243.16,89.13 243.40,89.76 243.64,90.47 243.88,91.25 244.12,92.09 244.36,92.99 244.60,93.95 244.84,94.95 244.90,95.20 245.08,96.05 245.32,97.33 245.56,98.79 245.80,100.38 246.04,102.09 246.28,103.87 246.52,105.70 246.76,107.55 246.90,108.60 247.00,109.47 247.24,111.92 247.48,114.71 247.73,117.52 247.97,120.02 248.21,121.87 248.45,122.77 248.50,122.80 248.69,122.75 248.93,122.54 249.17,122.21 249.41,121.77 249.65,121.25 249.89,120.69 250.13,120.11 250.37,119.54 250.61,119.01 250.85,118.54 251.09,118.16 251.33,117.91 251.57,117.80 251.60,117.80 251.81,117.91 252.05,118.27 252.29,118.87 252.53,119.68 252.77,120.65 253.01,121.78 253.25,123.01 253.49,124.37 253.73,126.48 253.97,127.00 254.21,128.60 254.45,130.16 254.69,130.79 254.93,132.00 255.17,133.74 255.41,134.43 255.65,134.01 255.89,135.57 256.13,137.64 256.30,136.33 256.37,136.28 256.61,136.42 256.85,135.17 257.09,135.39 257.33,134.40 257.58,133.70 257.82,133.43 258.06,133.07 258.30,131.49 258.54,130.74 258.78,130.14 259.02,130.96 259.26,129.96 259.50,129.40 259.70,129.36 259.74,129.21 259.98,129.22 260.22,130.01 260.46,131.05 260.70,131.03 260.94,132.37 261.18,133.42 261.42,134.58 261.66,135.87 261.90,137.69 262.14,139.04 262.38,139.75 262.62,142.23 262.86,140.65 263.10,141.25 263.34,143.04 263.58,142.99 263.70,144.69 263.82,141.23 264.06,141.56 264.30,143.11 264.54,143.15 264.78,142.02 265.02,140.94 265.26,139.44 265.50,140.86 265.74,139.91 265.98,139.30 266.22,138.34 266.46,137.17 266.70,136.20 266.94,136.84 267.18,136.59 267.42,135.52 267.67,135.54 267.80,135.58 267.91,135.17 268.15,134.54 268.39,136.28 268.63,137.42 268.87,137.01 269.11,137.32 269.35,137.02 269.59,139.87 269.83,140.27 270.07,140.88 270.31,141.62 270.55,141.81 270.79,142.83 271.03,144.09 271.27,143.61 271.51,145.91 271.75,144.48 271.80,146.32 271.99,144.25 272.23,144.83 272.47,144.25 272.71,142.97 272.95,141.49 273.19,143.55 273.43,141.86 273.67,141.88 273.91,142.30 274.15,140.49 274.39,140.77 274.63,140.35 274.87,140.54 275.11,140.81 275.35,139.04 275.59,140.28 275.83,139.17 275.90,139.59 276.07,139.44 276.31,139.88 276.55,138.99 276.79,140.20 277.03,141.39 277.27,142.08 277.52,143.75 277.76,141.62 278.00,142.61 278.24,142.53 278.48,143.55 278.72,142.50 278.96,143.37 279.20,143.64 279.20,144.78 279.44,144.61 279.68,145.81 279.92,141.85 280.16,144.86 280.40,143.47 280.64,142.32 280.88,143.58 281.12,142.27 281.36,141.91 281.60,140.14 281.84,138.58 282.08,139.52 282.32,138.43 282.56,138.42 282.80,138.71 283.04,137.92 283.28,137.96 283.52,137.20 283.76,137.52 283.90,136.79 284.00,137.16 284.24,137.25 284.48,136.26 284.72,139.19 284.96,137.28 285.20,138.02 285.44,139.65 285.68,140.30 285.92,139.11 286.16,139.70 286.40,142.90 286.64,140.96 286.88,139.62 287.12,141.35 287.30,143.72 287.36,141.81 287.61,141.58 287.85,143.24 288.09,141.61 288.33,140.57 288.57,139.94 288.81,141.01 289.05,139.66 289.29,140.26 289.53,141.32 289.77,140.24 290.01,139.78 290.25,140.12 290.49,139.97 290.73,139.85 290.97,138.82 291.21,139.23 291.45,141.20 291.50,139.68 291.69,140.16 291.93,138.86 292.17,138.45 292.41,139.34 292.65,140.99 292.89,140.18 293.13,139.84 293.37,140.59 293.61,141.37 293.85,141.65 294.09,141.52 294.33,141.51 294.57,144.96 294.81,145.49 295.05,142.64 295.29,142.71 295.53,144.45 295.77,142.41 295.90,142.80 296.01,143.87 296.25,144.78 296.49,142.77 296.73,142.97 296.97,144.20 297.21,140.92 297.45,141.39 297.70,140.28 297.94,141.00 298.18,138.66 298.42,139.60 298.66,139.39 298.90,139.22 299.14,138.52 299.38,138.89 299.50,138.32 299.62,137.98 299.86,138.12 300.10,139.22 300.34,138.17 300.58,139.58 300.82,139.51 301.06,138.79 301.30,139.36 301.54,140.16 301.78,138.34 301.80,138.55 302.02,138.55 302.26,139.08 302.50,139.31 302.74,138.83 302.98,138.45 303.22,138.36 303.46,139.28 303.70,138.50 303.94,138.11 304.18,137.24 304.42,138.07 304.66,138.10 304.90,138.42 305.14,137.49 305.20,136.93 305.38,136.23 305.62,136.28 305.86,136.64 306.10,136.29 306.34,137.88 306.58,135.62 306.82,135.08 307.06,135.71 307.30,135.77 307.55,135.58 307.79,134.87 308.03,134.81 308.27,134.34 308.51,134.57 308.60,134.91 308.75,135.06 308.99,134.11 309.23,133.69 309.47,133.74 309.71,133.67 309.95,133.37 310.19,133.24 310.43,132.84 310.67,132.13 310.91,132.33 311.15,132.21 311.39,131.62 311.63,131.60 311.87,131.00 312.00,131.39 312.11,130.96 312.35,130.67 312.59,130.44 312.83,130.07 313.07,130.37 313.31,129.59 313.55,129.22 313.79,128.34 314.03,128.47 314.27,128.27 314.51,128.21 314.75,127.50 314.99,127.59 315.23,126.71 315.47,126.39 315.50,126.52 315.71,126.54 315.95,126.08 316.19,125.79 316.43,125.45 316.67,125.13 316.91,124.79 317.15,124.27 317.39,124.23 317.64,123.83 317.88,123.64 318.12,123.30 318.36,122.93 318.60,122.54 318.84,122.12 318.90,122.00 319.08,121.66 319.32,121.16 319.56,120.61 319.80,120.02 320.04,119.39 320.28,118.73 320.52,118.02 320.76,117.28 321.00,116.51 321.24,115.71 321.48,114.89 321.70,114.10 321.72,114.03 321.96,113.09 322.20,112.06 322.44,110.93 322.68,109.75 322.92,108.54 323.16,107.31 323.40,106.10 323.40,106.10 323.64,104.92 323.88,103.78 324.12,102.62 324.36,101.42 324.60,100.13 324.84,98.71 325.08,97.12 325.10,97.00 325.32,95.27 325.56,93.09 325.80,90.66 326.04,88.04 326.25,85.70 326.28,85.31 326.52,82.40 326.76,79.11 326.90,77.00 327.00,75.18 327.24,70.29 327.48,64.87 327.70,60.00 327.73,59.44 327.97,53.64 328.21,47.73 328.45,42.63 328.50,41.70 328.69,38.71 328.93,35.23 329.17,32.53 329.30,31.50 329.41,30.84 329.65,29.48 329.89,28.52 330.10,28.20 330.13,28.21 330.37,28.69 330.61,29.77 330.85,31.18 330.90,31.50 331.09,33.09 331.33,36.06 331.57,39.65 331.70,41.70 331.81,43.52 332.05,48.15 332.29,53.30 332.53,58.53 332.60,60.00 332.77,63.66 333.01,69.01 333.25,74.14 333.40,77.00 333.49,78.62 333.73,82.64 333.97,86.25 334.10,88.00 334.21,89.43 334.45,92.32 334.69,94.99 334.93,97.45 335.17,99.75 335.20,100.00 335.41,101.91 335.65,103.97 335.89,105.87 336.13,107.61 336.30,108.70 336.37,109.16 336.61,110.59 336.85,111.93 337.09,113.17 337.33,114.31 337.58,115.32 337.70,115.80 337.82,116.22 338.06,117.06 338.30,117.86 338.54,118.62 338.78,119.35 339.02,120.04 339.26,120.70 339.50,121.33 339.74,121.93 339.98,122.52 340.22,123.08 340.46,123.62 340.70,124.24 340.94,124.40 341.10,124.76 341.18,125.18 341.42,125.50 341.66,126.35 341.90,126.60 342.14,126.88 342.38,127.58 342.62,127.71 342.86,128.41 343.10,128.95 343.34,129.04 343.58,129.31 343.82,129.60 344.06,130.26 344.30,130.77 344.54,130.50 344.78,131.52 345.02,131.66 345.20,131.68 345.26,131.91 345.50,131.90 345.74,132.99 345.98,133.63 346.22,133.45 346.46,133.75 346.70,134.19 346.94,135.28 347.18,135.30 347.42,134.82 347.67,136.77 347.91,137.41 348.15,136.85 348.39,135.61 348.63,138.09 348.87,137.30 349.11,137.79 349.20,138.50 349.35,139.14 349.59,139.58 349.83,139.40 350.07,139.02 350.31,139.67 350.55,140.10 350.79,138.91 351.03,140.98 351.27,140.28 351.51,140.76 351.75,140.95 351.99,141.82 352.23,142.24 352.47,144.93 352.71,142.53 352.95,142.40 353.19,142.82 353.43,142.60 353.67,144.00 353.80,142.49 353.91,145.59 354.15,144.52 354.39,145.85 354.63,143.82 354.87,146.07 355.11,145.56 355.35,145.37 355.59,145.21 355.83,144.92 356.07,148.22 356.31,146.20 356.55,145.51 356.79,146.43 357.03,146.07 357.27,147.78 357.52,150.56 357.76,145.47 358.00,145.51 358.24,148.14 358.48,148.08 358.72,147.15 358.96,148.44 359.20,150.03 359.44,148.36 359.60,149.99 359.68,146.59 359.92,150.45 360.16,146.77 360.40,148.63 360.64,147.83 360.88,146.74 361.12,144.20 361.36,150.79 361.60,149.38 361.84,150.76 362.08,147.70 362.32,148.30 362.56,149.73 362.80,151.78 363.04,152.64 363.28,149.13 363.52,147.30 363.76,151.92 364.00,148.49 364.24,149.36 364.48,149.54 364.72,148.51 364.96,152.35 365.20,149.40 365.40,154.85 365.44,153.08 365.68,151.12 365.92,152.58 366.16,151.31 366.40,155.15 366.64,150.01 366.88,148.55 367.12,148.59 367.36,151.04 367.61,150.57 367.85,152.98 368.09,150.31 368.33,150.82 368.57,154.81 368.81,158.02 369.05,155.25 369.29,151.27 369.53,152.71 369.77,153.06 370.01,152.51 370.25,154.09 370.49,154.39 370.73,151.27 370.97,150.29 371.10,156.52 371.21,152.35 371.45,153.94 371.69,154.72 371.93,152.11 372.17,150.07 372.41,155.27 372.65,154.03 372.89,155.32 373.13,158.50 373.37,152.08 373.61,152.88 373.85,150.90 374.09,153.97 374.33,156.82 374.57,153.88 374.81,152.94 375.05,151.41 375.29,156.19 375.53,148.71 375.77,152.51 376.01,158.50 376.25,157.69 376.49,153.16 376.73,155.24 376.90,150.30 376.97,156.46 377.21,154.20 377.45,150.71 377.70,153.99 377.94,153.03 378.18,156.31 378.42,154.30 378.66,153.54 378.90,155.45 379.14,156.43 379.38,149.72 379.62,158.50 379.86,152.56 380.10,157.20 380.34,153.59 380.58,156.43 380.82,154.17 381.06,158.50 381.30,153.87 381.54,154.75 381.78,154.66 382.02,156.33 382.26,158.50 382.50,153.64" fill="none" stroke="#d02838" stroke-width="1.2" stroke-linejoin="round" />
<rect x="142.5" y="298.5" width="240.00" height="138.60" fill="#fff" stroke="#808080" stroke-width="1"/>
<path d="M147.83 437.1v-2M153.17 437.1v-2M158.50 437.1v-2M163.83 437.1v-2M169.17 437.1v-4M174.50 437.1v-2M179.83 437.1v-2M185.17 437.1v-2M190.50 437.1v-2M195.83 437.1v-2M201.17 437.1v-2M206.50 437.1v-2M211.83 437.1v-2M217.17 437.1v-2M222.50 437.1v-4M227.83 437.1v-2M233.17 437.1v-2M238.50 437.1v-2M243.83 437.1v-2M249.17 437.1v-2M254.50 437.1v-2M259.83 437.1v-2M265.17 437.1v-2M270.50 437.1v-2M275.83 437.1v-4M281.17 437.1v-2M286.50 437.1v-2M291.83 437.1v-2M297.17 437.1v-2M302.50 437.1v-2M307.83 437.1v-2M313.17 437.1v-2M318.50 437.1v-2M323.83 437.1v-2M329.17 437.1v-4M334.50 437.1v-2M339.83 437.1v-2M345.17 437.1v-2M350.50 437.1v-2M355.83 437.1v-2M361.17 437.1v-2M366.50 437.1v-2M371.83 437.1v-2M377.17 437.1v-2M142.5 430.15h2M142.5 426.08h2M142.5 423.19h2M142.5 420.95h2M142.5 419.12h2M142.5 417.58h2M142.5 416.24h2M142.5 415.06h2M142.5 414.00h4M142.5 407.05h2M142.5 402.98h2M142.5 400.09h2M142.5 397.85h2M142.5 396.02h2M142.5 394.48h2M142.5 393.14h2M142.5 391.96h2M142.5 390.90h4M142.5 383.95h2M142.5 379.88h2M142.5 376.99h2M142.5 374.75h2M142.5 372.92h2M142.5 371.38h2M142.5 370.04h2M142.5 368.86h2M142.5 367.80h4M142.5 360.85h2M142.5 356.78h2M142.5 353.89h2M142.5 351.65h2M142.5 349.82h2M142.5 348.28h2M142.5 346.94h2M142.5 345.76h2M142.5 344.70h4M142.5 337.75h2M142.5 333.68h2M142.5 330.79h2M142.5 328.55h2M142.5 326.72h2M142.5 325.18h2M142.5 323.84h2M142.5 322.66h2M142.5 321.60h4M142.5 314.65h2M142.5 310.58h2M142.5 307.69h2M142.5 305.45h2M142.5 303.62h2M142.5 302.08h2M142.5 300.74h2M142.5 299.56h2" stroke="#808080" stroke-width="0.9" fill="none"/>
<polyline points="142.50,437.10 142.72,433.93 142.94,432.30 143.16,429.78 143.37,430.86 143.59,429.56 143.81,432.19 144.03,433.15 144.25,432.42 144.47,430.26 144.68,432.02 144.90,434.30 145.12,433.85 145.34,430.03 145.56,431.04 145.78,432.79 145.99,429.06 146.21,431.52 146.43,428.40 146.65,432.85 146.87,429.32 147.09,431.28 147.30,429.55 147.52,434.37 147.74,431.72 147.96,431.35 148.18,427.41 148.40,434.74 148.61,431.68 148.83,431.83 149.05,430.54 149.27,430.75 149.49,431.13 149.71,430.27 149.92,433.02 150.00,434.80 150.14,432.84 150.36,434.14 150.58,430.88 150.80,431.18 151.02,431.57 151.24,432.08 151.45,429.35 151.67,433.70 151.89,435.56 152.11,430.09 152.33,435.92 152.55,431.48 152.76,430.30 152.98,436.31 153.20,433.07 153.42,430.59 153.64,431.51 153.86,432.76 154.07,431.02 154.29,432.89 154.51,431.65 154.73,434.50 154.95,437.10 155.17,431.59 155.38,432.13 155.60,430.50 155.82,433.55 156.04,435.03 156.26,430.12 156.48,431.69 156.69,432.79 156.91,434.28 157.13,429.40 157.35,431.25 157.57,434.02 157.79,430.17 158.00,430.99 158.01,430.96 158.22,434.36 158.44,431.99 158.66,433.01 158.88,430.97 159.10,430.66 159.32,433.66 159.53,430.27 159.75,430.88 159.97,431.70 160.19,431.89 160.41,433.67 160.63,430.37 160.84,431.08 161.06,430.94 161.28,432.28 161.50,431.64 161.72,431.08 161.94,432.89 162.00,430.39 162.15,433.72 162.37,433.83 162.59,431.04 162.81,429.56 163.03,431.16 163.25,427.58 163.46,427.27 163.68,429.18 163.90,428.00 164.12,428.47 164.34,430.68 164.56,426.66 164.77,427.21 164.99,427.68 165.21,428.56 165.43,426.85 165.60,427.16 165.65,427.66 165.87,427.55 166.09,427.41 166.30,427.85 166.52,430.97 166.74,427.18 166.96,429.51 167.18,428.82 167.40,431.91 167.61,430.78 167.83,431.18 168.05,432.27 168.27,433.79 168.49,432.56 168.71,432.65 168.92,432.90 169.00,429.01 169.14,434.30 169.36,429.14 169.58,434.25 169.80,431.43 170.02,434.88 170.23,430.51 170.45,428.15 170.67,430.52 170.89,429.54 171.11,426.39 171.33,426.36 171.54,425.21 171.76,423.75 171.98,424.45 172.20,424.67 172.40,423.69 172.42,423.01 172.64,423.09 172.85,423.25 173.07,426.26 173.29,425.91 173.51,426.90 173.73,428.16 173.95,426.91 174.17,428.76 174.38,428.76 174.60,431.29 174.82,430.65 175.04,431.39 175.26,429.75 175.48,431.17 175.60,436.47 175.69,432.36 175.91,430.59 176.13,433.24 176.35,435.38 176.57,429.88 176.79,434.30 177.00,432.65 177.22,427.43 177.44,431.41 177.66,430.23 177.88,429.60 178.10,428.12 178.31,427.31 178.53,425.80 178.75,425.34 178.97,423.92 179.19,424.81 179.41,425.44 179.62,423.38 179.84,423.51 180.06,423.03 180.20,423.16 180.28,423.16 180.50,426.73 180.72,423.96 180.93,424.19 181.15,424.96 181.37,428.21 181.59,427.27 181.81,428.16 182.03,427.61 182.25,427.37 182.46,432.28 182.68,432.34 182.90,431.76 183.12,434.52 183.30,433.09 183.34,434.06 183.56,434.21 183.77,430.42 183.99,435.55 184.21,429.95 184.43,431.52 184.65,429.29 184.87,430.24 185.08,428.95 185.30,427.61 185.52,423.92 185.74,422.60 185.96,423.31 186.18,421.10 186.39,421.07 186.61,420.47 186.83,418.87 187.05,418.46 187.27,418.71 187.49,418.51 187.60,419.05 187.70,418.38 187.92,418.47 188.14,418.38 188.36,419.79 188.58,420.36 188.80,420.65 189.02,422.95 189.23,425.30 189.45,426.72 189.67,425.95 189.89,426.24 190.11,427.04 190.33,427.59 190.54,429.23 190.76,428.98 190.98,430.28 191.00,431.55 191.20,432.42 191.42,427.69 191.64,434.75 191.85,427.88 192.07,428.15 192.29,425.66 192.51,424.88 192.73,424.19 192.95,422.11 193.16,421.04 193.38,419.48 193.60,418.99 193.82,417.64 194.04,416.73 194.26,415.52 194.47,414.40 194.69,413.77 194.90,414.26 194.91,414.76 195.13,414.73 195.35,414.61 195.57,415.15 195.78,416.37 196.00,417.04 196.22,418.25 196.44,418.41 196.66,419.67 196.88,420.63 197.10,421.94 197.31,422.25 197.53,422.25 197.75,423.70 197.97,423.37 198.19,425.02 198.30,423.00 198.41,423.60 198.62,423.90 198.84,422.25 199.06,423.58 199.28,422.58 199.50,420.72 199.72,420.50 199.93,419.62 200.15,417.58 200.37,416.62 200.59,415.28 200.81,414.17 201.03,412.57 201.24,411.65 201.46,410.50 201.68,410.01 201.90,408.73 202.12,407.99 202.34,407.67 202.55,407.29 202.77,407.05 202.80,407.10 202.99,407.27 203.21,407.60 203.43,408.29 203.65,409.10 203.86,410.12 204.08,411.42 204.30,412.17 204.52,413.36 204.74,414.96 204.96,416.52 205.18,416.75 205.39,416.95 205.61,417.19 205.80,417.33 205.83,418.07 206.05,417.48 206.27,416.98 206.49,416.02 206.70,414.97 206.92,414.82 207.14,413.34 207.36,411.59 207.58,410.15 207.80,408.72 208.01,407.34 208.23,405.30 208.45,403.88 208.67,402.38 208.89,400.89 209.11,399.49 209.32,398.21 209.54,397.08 209.76,396.13 209.98,395.39 210.20,394.87 210.42,394.62 210.50,394.60 210.63,394.66 210.85,394.99 211.07,395.57 211.29,396.34 211.51,397.24 211.73,398.23 211.94,399.24 212.16,400.24 212.38,401.15 212.60,401.94 212.82,402.65 213.04,403.08 213.20,403.01 213.26,403.06 213.47,402.58 213.69,401.32 213.91,399.68 214.13,397.65 214.35,395.32 214.57,392.81 214.78,390.21 215.00,387.64 215.22,385.20 215.44,382.99 215.66,381.12 215.70,380.80 215.88,379.53 216.09,377.96 216.31,376.41 216.53,374.91 216.75,373.48 216.97,372.13 217.19,370.89 217.40,369.77 217.62,368.80 217.70,368.50 217.84,367.97 218.06,367.16 218.28,366.40 218.50,365.68 218.71,365.04 218.93,364.48 219.15,364.01 219.37,363.65 219.50,363.50 219.59,363.41 219.81,363.20 220.03,363.01 220.24,362.83 220.46,362.68 220.68,362.54 220.90,362.43 221.12,362.36 221.34,362.31 221.50,362.30 221.55,362.30 221.77,362.33 221.99,362.38 222.21,362.47 222.43,362.59 222.65,362.73 222.86,362.90 223.08,363.08 223.30,363.29 223.50,363.50 223.52,363.52 223.74,363.92 223.96,364.56 224.17,365.37 224.39,366.29 224.61,367.26 224.83,368.21 224.90,368.50 225.05,369.12 225.27,370.08 225.48,371.10 225.70,372.16 225.92,373.26 226.14,374.37 226.36,375.51 226.58,376.64 226.79,377.77 227.01,378.89 227.23,379.98 227.40,380.80 227.45,381.04 227.67,382.19 227.89,383.42 228.11,384.66 228.32,385.83 228.54,386.87 228.76,387.71 228.98,388.26 229.00,388.30 229.20,388.59 229.42,388.86 229.63,389.09 229.85,389.28 230.07,389.45 230.29,389.62 230.50,389.80 230.51,389.81 230.73,389.98 230.94,390.14 231.16,390.28 231.38,390.43 231.60,390.60 231.82,390.80 232.00,391.00 232.04,391.05 232.25,391.41 232.47,391.89 232.69,392.49 232.91,393.17 233.13,393.92 233.35,394.72 233.56,395.55 233.78,396.39 234.00,397.23 234.22,398.03 234.44,398.80 234.50,399.00 234.66,399.54 234.87,400.40 235.09,401.32 235.31,402.29 235.53,403.20 235.75,404.12 235.97,405.25 236.19,405.72 236.40,406.31 236.62,406.52 236.84,407.00 236.90,406.80 237.06,406.76 237.28,406.91 237.50,406.49 237.71,405.35 237.93,404.49 238.15,403.76 238.37,403.04 238.59,402.46 238.81,401.93 239.02,401.59 239.20,401.50 239.24,401.50 239.46,401.62 239.68,401.90 239.90,402.31 240.12,402.65 240.33,403.64 240.55,404.16 240.77,405.01 240.99,405.89 241.21,406.75 241.43,407.69 241.64,408.84 241.86,409.36 242.08,410.10 242.30,411.13 242.52,411.86 242.74,412.86 242.95,413.46 243.17,413.59 243.39,413.86 243.61,414.51 243.80,414.90 243.83,413.80 244.05,414.51 244.27,413.84 244.48,414.37 244.70,413.09 244.92,412.59 245.14,411.76 245.36,411.25 245.58,411.04 245.79,410.49 246.01,409.53 246.23,409.03 246.45,408.50 246.67,408.63 246.89,408.45 246.90,408.41 247.10,408.60 247.32,408.87 247.54,409.39 247.76,410.06 247.98,411.05 248.20,412.18 248.41,412.85 248.63,413.55 248.85,414.95 249.07,415.83 249.29,417.10 249.51,418.00 249.72,418.69 249.94,419.89 250.16,420.36 250.38,420.84 250.60,420.94 250.80,421.07 250.82,422.35 251.04,421.11 251.25,420.72 251.47,420.44 251.69,419.63 251.91,418.31 252.13,418.59 252.35,416.78 252.56,416.42 252.78,415.64 253.00,414.14 253.22,414.58 253.44,413.38 253.66,412.87 253.87,412.33 254.09,412.23 254.20,411.96 254.31,412.57 254.53,412.27 254.75,412.66 254.97,412.74 255.18,413.54 255.40,414.00 255.62,415.83 255.84,415.10 256.06,416.02 256.28,415.96 256.49,418.13 256.71,419.12 256.93,418.81 257.15,419.71 257.37,420.01 257.59,421.11 257.80,421.65 258.02,421.93 258.24,422.00 258.46,421.95 258.68,423.61 258.80,422.98 258.90,423.29 259.12,423.07 259.33,420.79 259.55,421.76 259.77,421.39 259.99,418.70 260.21,419.75 260.43,418.88 260.64,417.04 260.86,417.03 261.08,417.03 261.30,415.78 261.52,415.32 261.74,415.61 261.90,415.31 261.95,414.90 262.17,414.84 262.39,415.26 262.61,415.17 262.83,415.89 263.05,416.51 263.26,417.16 263.48,417.65 263.70,417.34 263.92,418.44 264.14,419.39 264.36,419.87 264.57,420.70 264.79,420.82 265.01,422.67 265.23,421.98 265.45,422.28 265.67,421.60 265.88,424.40 266.10,423.95 266.32,424.93 266.50,422.26 266.54,422.88 266.76,422.80 266.98,422.21 267.20,420.84 267.41,421.90 267.63,421.67 267.85,420.66 268.07,419.34 268.29,419.67 268.51,418.54 268.72,416.77 268.94,417.60 269.16,417.22 269.38,416.78 269.60,416.86 269.60,416.83 269.82,417.22 270.03,416.72 270.25,417.12 270.47,417.10 270.69,417.39 270.91,418.35 271.13,419.22 271.34,418.78 271.56,419.05 271.78,419.56 272.00,420.36 272.22,419.92 272.44,421.33 272.65,419.63 272.70,419.96 272.87,420.39 273.09,420.82 273.31,420.29 273.53,419.32 273.75,419.36 273.96,419.43 274.18,419.45 274.40,418.06 274.62,418.56 274.84,418.21 275.06,417.97 275.28,417.83 275.49,417.43 275.71,416.78 275.93,417.78 276.15,416.11 276.37,416.29 276.50,416.38 276.59,416.04 276.80,416.61 277.02,416.77 277.24,416.61 277.46,418.54 277.68,417.93 277.90,418.95 278.11,418.61 278.33,419.28 278.55,421.21 278.77,421.67 278.99,422.49 279.21,422.12 279.42,422.35 279.64,424.12 279.86,422.83 280.08,422.53 280.30,423.24 280.40,423.36 280.52,423.42 280.73,422.48 280.95,422.33 281.17,423.11 281.39,422.85 281.61,422.10 281.83,422.87 282.05,421.30 282.26,420.43 282.48,420.62 282.70,419.64 282.92,419.16 283.14,418.41 283.36,419.08 283.57,418.28 283.79,417.86 284.01,418.40 284.20,417.69 284.23,418.08 284.45,417.86 284.67,417.66 284.88,418.68 285.10,420.05 285.32,419.81 285.54,419.81 285.76,420.68 285.98,421.49 286.19,420.55 286.41,420.69 286.50,421.89 286.63,421.21 286.85,421.33 287.07,421.48 287.29,421.83 287.50,421.62 287.72,420.88 287.94,421.06 288.16,419.51 288.38,420.95 288.60,420.23 288.81,420.30 289.03,420.07 289.25,419.97 289.47,419.18 289.69,419.90 289.91,419.02 290.13,419.11 290.34,418.45 290.56,418.44 290.78,417.93 291.00,418.82 291.22,418.38 291.44,418.80 291.65,418.61 291.87,418.05 291.90,417.75 292.09,417.33 292.31,417.40 292.53,417.52 292.75,417.69 292.96,417.33 293.18,417.71 293.40,416.72 293.62,417.54 293.84,417.20 294.06,417.21 294.27,416.98 294.49,416.76 294.71,416.71 294.93,416.23 295.15,417.10 295.37,417.44 295.58,418.01 295.80,417.33 296.02,416.93 296.24,416.82 296.46,417.29 296.50,416.48 296.68,416.42 296.89,416.46 297.11,416.15 297.33,416.45 297.55,416.55 297.77,415.56 297.99,416.11 298.21,416.02 298.42,415.59 298.64,414.99 298.86,415.25 299.08,414.96 299.30,414.39 299.52,414.64 299.73,414.55 299.95,414.43 300.17,414.32 300.39,414.47 300.61,413.97 300.83,413.64 301.04,413.36 301.20,413.97 301.26,412.86 301.48,413.00 301.70,413.02 301.92,413.07 302.14,413.02 302.35,413.12 302.57,412.22 302.79,412.77 303.01,412.30 303.23,412.05 303.45,412.17 303.66,411.72 303.88,411.37 304.10,411.77 304.32,411.35 304.54,411.41 304.76,411.36 304.97,411.53 305.19,411.43 305.41,411.55 305.63,410.59 305.85,410.54 306.07,410.45 306.29,410.26 306.50,410.50 306.72,410.01 306.94,409.68 307.16,410.04 307.38,409.71 307.60,409.65 307.81,409.56 308.03,409.46 308.25,409.13 308.47,409.13 308.69,408.84 308.80,409.03 308.91,408.73 309.12,408.26 309.34,408.28 309.56,408.10 309.78,408.04 310.00,407.57 310.22,407.99 310.43,407.50 310.65,407.17 310.87,406.89 311.09,406.86 311.31,406.63 311.53,406.50 311.74,406.19 311.96,406.02 312.18,405.86 312.40,405.41 312.62,405.24 312.84,405.25 313.06,405.07 313.27,404.37 313.49,404.25 313.50,404.12 313.71,404.00 313.93,403.38 314.15,403.20 314.37,402.72 314.58,402.34 314.80,401.89 315.02,401.42 315.24,400.93 315.46,400.44 315.68,399.93 315.89,399.42 316.11,398.91 316.33,398.40 316.50,398.00 316.55,397.89 316.77,397.37 316.99,396.86 317.20,396.33 317.42,395.80 317.64,395.26 317.86,394.71 318.08,394.14 318.30,393.56 318.51,392.96 318.73,392.34 318.95,391.70 319.17,391.04 319.39,390.36 319.50,390.00 319.61,389.65 319.82,388.92 320.04,388.15 320.26,387.36 320.48,386.54 320.70,385.70 320.92,384.82 321.14,383.91 321.35,382.97 321.57,381.99 321.79,380.99 322.01,379.95 322.23,378.88 322.40,378.00 322.45,377.77 322.66,376.63 322.88,375.48 323.10,374.28 323.32,373.05 323.54,371.77 323.76,370.42 323.97,369.01 324.19,367.52 324.41,365.95 324.63,364.28 324.85,362.52 325.07,360.64 325.28,358.65 325.30,358.50 325.50,356.37 325.72,353.68 325.94,350.65 326.16,347.40 326.38,344.02 326.59,340.62 326.70,339.00 326.81,337.23 327.03,333.60 327.25,329.86 327.47,326.15 327.60,324.00 327.69,322.49 327.90,318.13 328.12,314.47 328.30,313.30 328.34,313.37 328.56,315.61 328.78,319.72 329.00,323.95 329.00,324.00 329.22,327.92 329.43,332.23 329.65,336.43 329.80,339.00 329.87,340.13 330.09,343.53 330.31,346.77 330.53,349.85 330.74,352.79 330.96,355.60 331.18,358.27 331.20,358.50 331.40,360.86 331.62,363.42 331.84,365.91 332.05,368.32 332.27,370.63 332.49,372.80 332.71,374.83 332.93,376.68 333.10,378.00 333.15,378.33 333.36,379.88 333.58,381.35 333.80,382.76 334.02,384.09 334.24,385.36 334.46,386.55 334.67,387.66 334.89,388.70 335.11,389.65 335.33,390.53 335.40,390.80 335.55,391.34 335.77,392.10 335.98,392.83 336.20,393.51 336.42,394.16 336.64,394.78 336.86,395.38 337.08,395.95 337.30,396.50 337.51,397.03 337.73,397.55 337.95,398.06 338.17,398.56 338.39,399.06 338.61,399.56 338.80,400.00 338.82,400.05 339.04,400.55 339.26,401.04 339.48,401.52 339.70,401.99 339.92,402.47 340.13,402.97 340.35,403.30 340.57,403.79 340.79,404.31 341.01,404.83 341.23,405.13 341.44,405.24 341.66,405.96 341.88,406.13 342.10,406.78 342.32,407.29 342.54,407.32 342.75,408.31 342.97,408.17 343.19,408.45 343.41,408.92 343.50,409.54 343.63,410.30 343.85,409.87 344.07,410.01 344.28,410.85 344.50,411.05 344.72,411.11 344.94,411.58 345.16,412.29 345.38,412.14 345.59,412.55 345.81,412.87 346.03,413.27 346.25,413.35 346.47,414.08 346.69,414.00 346.90,415.25 347.12,414.45 347.34,415.36 347.56,415.79 347.78,415.76 348.00,416.47 348.10,416.13 348.21,416.82 348.43,416.80 348.65,416.39 348.87,416.66 349.09,417.75 349.31,417.63 349.52,417.49 349.74,417.54 349.96,417.30 350.18,418.56 350.40,417.43 350.62,419.67 350.83,418.32 351.05,418.80 351.27,418.84 351.49,419.40 351.71,418.67 351.93,418.80 352.15,419.22 352.36,418.88 352.58,419.79 352.80,421.10 353.02,420.66 353.24,420.85 353.46,420.20 353.67,421.65 353.80,420.87 353.89,421.47 354.11,423.21 354.33,422.71 354.55,422.23 354.77,422.28 354.98,421.64 355.20,422.32 355.42,422.04 355.64,423.21 355.86,422.82 356.08,424.19 356.29,421.45 356.51,422.89 356.73,423.74 356.95,423.08 357.17,423.17 357.39,424.31 357.60,422.81 357.82,424.26 358.04,425.65 358.26,424.95 358.48,424.66 358.70,423.68 358.91,424.69 359.13,425.91 359.35,424.68 359.57,425.21 359.60,425.61 359.79,425.77 360.01,425.45 360.23,424.36 360.44,424.17 360.66,425.59 360.88,424.35 361.10,426.46 361.32,425.29 361.54,427.00 361.75,427.95 361.97,427.98 362.19,425.45 362.41,427.70 362.63,427.74 362.85,426.16 363.06,427.41 363.28,428.39 363.50,425.98 363.72,429.47 363.94,425.31 364.16,426.81 364.37,427.44 364.59,427.90 364.81,427.91 365.03,428.11 365.25,428.63 365.40,429.90 365.47,426.38 365.68,428.30 365.90,427.92 366.12,429.18 366.34,428.83 366.56,428.87 366.78,430.18 366.99,430.06 367.21,429.83 367.43,428.69 367.65,431.75 367.87,432.41 368.09,427.44 368.31,430.74 368.52,432.40 368.74,430.28 368.96,430.67 369.18,429.54 369.40,430.96 369.62,430.55 369.83,430.41 370.05,433.04 370.27,429.56 370.49,430.71 370.71,430.66 370.93,435.04 371.10,428.85 371.14,429.91 371.36,431.76 371.58,431.26 371.80,431.43 372.02,432.42 372.24,430.65 372.45,430.61 372.67,430.94 372.89,432.11 373.11,429.64 373.33,433.12 373.55,431.13 373.76,430.08 373.98,431.30 374.20,432.33 374.42,433.50 374.64,430.13 374.86,433.28 375.08,431.04 375.29,429.16 375.51,430.88 375.73,428.29 375.95,431.35 376.17,433.30 376.39,433.64 376.60,430.66 376.82,431.00 376.90,437.10 377.04,432.53 377.26,432.33 377.48,434.47 377.70,437.10 377.91,435.76 378.13,435.12 378.35,433.38 378.57,433.69 378.79,431.57 379.01,430.74 379.22,432.43 379.44,435.60 379.66,433.06 379.88,437.10 380.10,437.10 380.32,431.74 380.53,433.83 380.75,433.03 380.97,434.90 381.19,435.03 381.41,432.99 381.63,437.06 381.84,430.92 382.06,433.20 382.28,437.10 382.50,433.75" fill="none" stroke="#3450c8" stroke-width="1.2" stroke-linejoin="round" />
<g font-family="'Liberation Sans', Arial, Helvetica, sans-serif" fill="#111" stroke="#111" stroke-width="0.25"><text x="48.50" y="581.0" font-size="18.6" text-anchor="middle">20</text>
<text x="125.43" y="581.0" font-size="18.6" text-anchor="middle">25</text>
<text x="202.37" y="581.0" font-size="18.6" text-anchor="middle">30</text>
<text x="279.30" y="581.0" font-size="18.6" text-anchor="middle">35</text>
<text x="356.23" y="581.0" font-size="18.6" text-anchor="middle">40</text>
<text x="433.17" y="581.0" font-size="18.6" text-anchor="middle">45</text>
<text x="510.10" y="581.0" font-size="18.6" text-anchor="middle">50</text>
<text x="279.3" y="610.5" font-size="23" text-anchor="middle">2θ (°)</text>
<text transform="translate(16.4,280.2) rotate(-90)" font-size="22.8" text-anchor="middle">Intensity (arb. units)</text>
<text x="57" y="19.6" font-size="18.7" text-anchor="start">(a)</text>
<text x="57" y="302.8" font-size="18.7" text-anchor="start">(b)</text>
<text transform="translate(79.7,164.8) rotate(-90)" font-size="18.5" text-anchor="middle" letter-spacing="0.25">BSO (001)</text>
<text transform="translate(98.3,81.9) rotate(-90)" font-size="18.5" text-anchor="middle" letter-spacing="0.25">STO (001)</text>
<text transform="translate(421.3,117.75) rotate(-90)" font-size="18.5" text-anchor="middle" letter-spacing="0.25">BSO (002)</text>
<text transform="translate(461.9,48.7) rotate(-90)" font-size="18.5" text-anchor="middle" letter-spacing="0.25">STO (002)</text>
<text transform="translate(79.3,441.1) rotate(-90)" font-size="18.5" text-anchor="middle" letter-spacing="0.25">BSO (001)</text>
<text transform="translate(109,347.55) rotate(-90)" font-size="18.5" text-anchor="middle" letter-spacing="0.25">LAO (001)</text>
<text transform="translate(423.8,397) rotate(-90)" font-size="18.5" text-anchor="middle" letter-spacing="0.25">BSO (002)</text>
<text transform="translate(484.3,337.15) rotate(-90)" font-size="18.5" text-anchor="middle" letter-spacing="0.25">LAO (002)</text>
<text transform="translate(235,53.5) rotate(-90)" font-size="18.5" text-anchor="middle">BSO</text>
<text transform="translate(256.6,53.15) rotate(-90)" font-size="18.5" text-anchor="middle">(002)</text>
<text transform="translate(292.5,53) rotate(-90)" font-size="18.5" text-anchor="middle">STO</text>
<text transform="translate(315.2,53.15) rotate(-90)" font-size="18.5" text-anchor="middle">(002)</text>
<text transform="translate(224.5,332.75) rotate(-90)" font-size="18.5" text-anchor="middle">BSO</text>
<text transform="translate(246.3,332.2) rotate(-90)" font-size="18.5" text-anchor="middle">(002)</text>
<text transform="translate(297.3,332.75) rotate(-90)" font-size="18.5" text-anchor="middle">LAO</text>
<text transform="translate(317.7,332.2) rotate(-90)" font-size="18.5" text-anchor="middle">(002)</text>
<text x="176.79" y="176.7" font-size="17.6" text-anchor="middle">42</text>
<text x="245.36" y="176.7" font-size="17.6" text-anchor="middle">44</text>
<text x="313.93" y="176.7" font-size="17.6" text-anchor="middle">46</text>
<text x="382.50" y="176.7" font-size="17.6" text-anchor="middle">48</text>
<text x="169.17" y="455.6" font-size="17.6" text-anchor="middle">42</text>
<text x="222.50" y="455.6" font-size="17.6" text-anchor="middle">44</text>
<text x="275.83" y="455.6" font-size="17.6" text-anchor="middle">46</text>
<text x="329.17" y="455.6" font-size="17.6" text-anchor="middle">48</text>
<text x="382.50" y="455.6" font-size="17.6" text-anchor="middle">50</text>
<text x="263.1" y="205.9" font-size="21" text-anchor="middle">2θ (°)</text>
<text x="262.6" y="481.0" font-size="21" text-anchor="middle">2θ (°)</text>
<text transform="translate(132.5,88.65) rotate(-90)" font-size="19" text-anchor="middle">I (arb. units)</text>
<text transform="translate(132.5,367.8) rotate(-90)" font-size="19" text-anchor="middle">I (arb. units)</text></g></svg></body></html>
